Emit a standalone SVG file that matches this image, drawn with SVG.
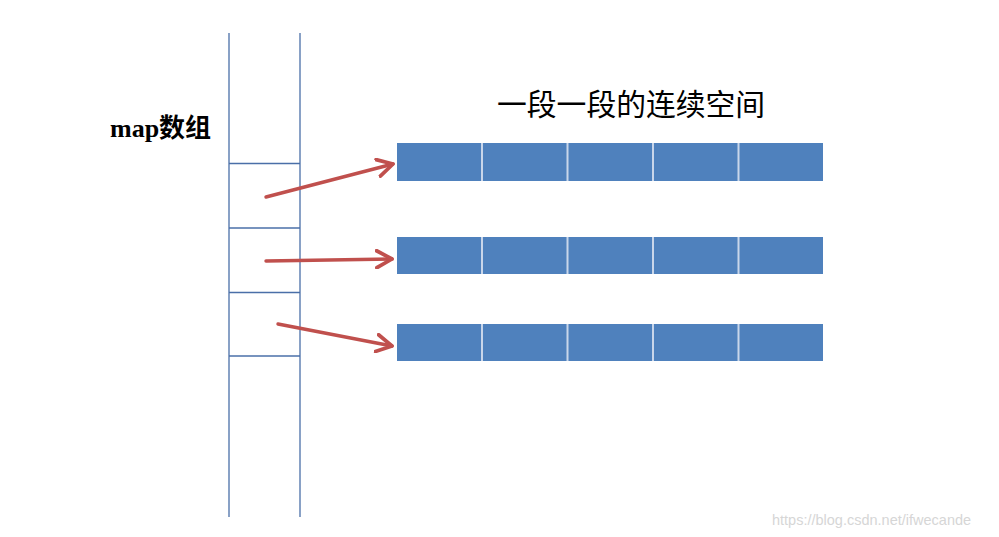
<svg xmlns="http://www.w3.org/2000/svg" width="999" height="537" viewBox="0 0 999 537">
<defs>
<style>
.grid{stroke:#4a6fa8;stroke-width:1.3;fill:none}
.cell{fill:#4f81bd;stroke:#ffffff;stroke-width:0}
.sep{stroke:#c9d6ea;stroke-width:2}
.arr{stroke:#c0504d;stroke-width:3.4;fill:none;stroke-linecap:round;marker-end:url(#head)}
.lbl{font-family:"Liberation Serif","Noto Sans CJK SC",serif;fill:#000}
</style>
<marker id="head" viewBox="0 0 12 12" refX="10" refY="6" markerWidth="6" markerHeight="6" markerUnits="strokeWidth" orient="auto">
<path d="M1,1 L10,6 L1,11" fill="none" stroke="#c0504d" stroke-width="2.2" stroke-linecap="round" stroke-linejoin="round"/>
</marker>
</defs>
<rect width="999" height="537" fill="#ffffff"/>
<g id="map-array">
<line class="grid" x1="229" y1="33" x2="229" y2="517"/>
<line class="grid" x1="300" y1="33" x2="300" y2="517"/>
<line class="grid" x1="229" y1="163.5" x2="300" y2="163.5"/>
<line class="grid" x1="229" y1="228" x2="300" y2="228"/>
<line class="grid" x1="229" y1="292.5" x2="300" y2="292.5"/>
<line class="grid" x1="229" y1="356" x2="300" y2="356"/>
<text class="lbl" x="110" y="137" font-size="26" font-weight="bold">map数组</text>
</g>
<g id="buffer1">
<rect class="cell" x="397" y="143" width="426" height="38"/>
<line class="sep" x1="482" y1="143" x2="482" y2="181"/>
<line class="sep" x1="567.5" y1="143" x2="567.5" y2="181"/>
<line class="sep" x1="653" y1="143" x2="653" y2="181"/>
<line class="sep" x1="738.5" y1="143" x2="738.5" y2="181"/>
</g>
<g id="buffer2">
<rect class="cell" x="397" y="237" width="426" height="37"/>
<line class="sep" x1="482" y1="237" x2="482" y2="274"/>
<line class="sep" x1="567.5" y1="237" x2="567.5" y2="274"/>
<line class="sep" x1="653" y1="237" x2="653" y2="274"/>
<line class="sep" x1="738.5" y1="237" x2="738.5" y2="274"/>
</g>
<g id="buffer3">
<rect class="cell" x="397" y="324" width="426" height="37"/>
<line class="sep" x1="482" y1="324" x2="482" y2="361"/>
<line class="sep" x1="567.5" y1="324" x2="567.5" y2="361"/>
<line class="sep" x1="653" y1="324" x2="653" y2="361"/>
<line class="sep" x1="738.5" y1="324" x2="738.5" y2="361"/>
</g>
<g id="title">
<text class="lbl" x="497" y="115" font-size="29.8" font-family="'Noto Sans CJK SC',sans-serif">一段一段的连续空间</text>
</g>
<g id="connectors">
<line class="arr" x1="266" y1="197" x2="393" y2="164"/>
<line class="arr" x1="266" y1="261" x2="392" y2="259"/>
<line class="arr" x1="278" y1="324" x2="392" y2="346"/>
</g>
<text x="772" y="525" font-size="14.5" font-family="'Liberation Sans',Arial,sans-serif" fill="#d6d6d6">https://blog.csdn.net/ifwecande</text>
</svg>
